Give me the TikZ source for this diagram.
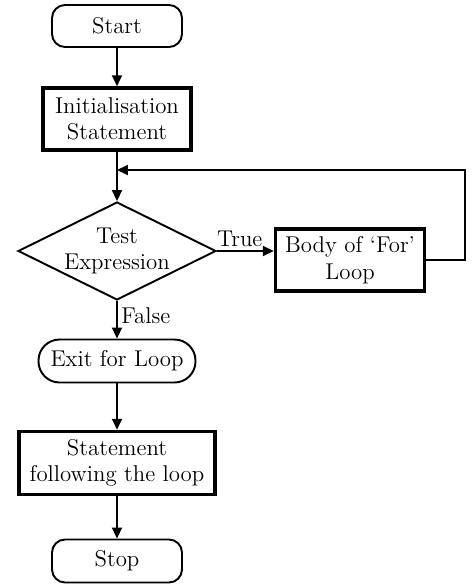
\documentclass[tikz,border=0pt]{standalone}
\usepackage{tikz}
\usetikzlibrary{arrows.meta,shapes.geometric,positioning,calc}

\begin{document}
\begin{tikzpicture}[
    x=0.02cm, y=-0.02cm,
    term/.style={draw, line width=1.1pt, rounded corners=0.26cm, minimum width=2.6cm, minimum height=0.84cm, align=center, font=\fontsize{13}{15}\selectfont},
    proc/.style={draw, line width=2pt, minimum height=1.24cm, align=center, font=\fontsize{13}{15}\selectfont},
    dec/.style={draw, diamond, aspect=2, line width=1.1pt, inner sep=-2pt, minimum width=3.96cm, minimum height=1.96cm, align=center, font=\fontsize{13}{15}\selectfont},
    arr/.style={-{Triangle[length=0.22cm, width=0.2cm]}, line width=1.1pt},
    lbl/.style={font=\fontsize{13}{15}\selectfont, inner sep=2pt}
]
\useasboundingbox (0,0) rectangle (473,588);
\node[term] (start) at (117,26) {Start};
\node[proc, minimum width=2.96cm] (init) at (117,119) {Initialisation\\Statement};
\node[dec] (test) at (117,251) {Test\\Expression};
\node[proc, minimum width=2.98cm] (body) at (350,260) {Body of `For'\\Loop};
\node[term, rounded corners=0.42cm, minimum width=3.14cm, minimum height=0.86cm] (exit) at (117,361) {Exit for Loop};
\node[proc, minimum width=3.92cm, minimum height=1.26cm] (after) at (117,463) {Statement\\following the loop};
\node[term, minimum height=0.86cm] (stop) at (117,561) {Stop};
\coordinate (back) at (117,170);

\draw[arr] (start) -- (init);
\draw[arr] (init) -- (test);
\draw[arr] (test.east) -- node[lbl, above, pos=0.4] {True} (body.west |- test.east);
\draw[arr] (body.east) -- ++(39,0) |- (back);
\draw[arr] (test) -- node[lbl, right, pos=0.4] {False} (exit);
\draw[arr] (exit) -- (after);
\draw[arr] (after) -- (stop);
\end{tikzpicture}
\end{document}
